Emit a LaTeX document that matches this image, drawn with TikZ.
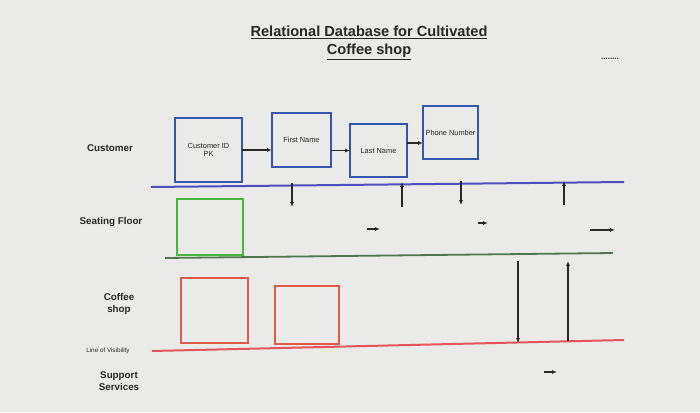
\documentclass[tikz,border=0pt]{standalone}
\usepackage{fontspec}
\setmainfont{Liberation Sans}
\usetikzlibrary{positioning,arrows.meta}

\definecolor{boxblue}{RGB}{52,86,176}
\definecolor{lineblue}{RGB}{78,78,190}
\definecolor{boxgreen}{RGB}{74,180,64}
\definecolor{linegreen}{RGB}{80,118,80}
\definecolor{boxred}{RGB}{224,90,74}
\definecolor{linered}{RGB}{228,84,92}
\definecolor{paper}{RGB}{234,234,232}
\definecolor{ink}{RGB}{40,40,40}

\tikzset{
  lane/.style={font=\fontsize{9.8}{12}\selectfont\bfseries, text=ink, align=center},
  attr/.style={draw=boxblue, line width=2.2pt, inner sep=0pt, outer sep=0pt, align=center,
    font=\fontsize{7.4}{8}\selectfont, text=ink},
  seatbox/.style={draw=boxgreen, line width=2.2pt, inner sep=0pt, outer sep=0pt},
  shopbox/.style={draw=boxred, line width=2pt, inner sep=0pt, outer sep=0pt},
  flow/.style={-{Latex[length=5pt,width=4pt]}, line width=1.3pt, draw=ink}
}

\begin{document}
\begin{tikzpicture}[x=1pt, y=-1pt]

			\fill[paper] (0,0) rectangle (700,412);
			\useasboundingbox (0,0) rectangle (700,412);

			% Title
			\node[font=\fontsize{14.6}{18}\selectfont\bfseries, text=ink, align=center] (title) at (369,43)
			  {\underline{Relational Database for Cultivated}\\\underline{Coffee shop}};
			\node[font=\fontsize{8}{8}\selectfont\bfseries, text=ink] (dots) at (610,59) {........};

			% Define lanes
			\node[lane]                               (cust) at (110,148) {Customer};
			\node[lane]                               (seat) at (111,222) {Seating Floor};
			\node[lane]                               (shop) at (119,304) {Coffee\\shop};
			\node[font=\fontsize{6.3}{7}\selectfont, text=ink] (lov) at (108,351) {Line of Visibility};
			\node[lane]                               (supp) at (119,381) {Support\\Services};

			% Define nodes
			\node[attr, minimum width=67pt, minimum height=64pt] (cid) at (208.5,150) {Customer ID\\PK};
			\node[attr, minimum width=59pt, minimum height=54pt, right=30pt of cid, yshift=10pt]  (fn) {First Name};
			\node[attr, minimum width=57pt, minimum height=53pt, right=19pt of fn, yshift=-10.5pt] (ln) {Last Name};
			\node[attr, minimum width=55pt, minimum height=53pt, right=16pt of ln, yshift=18pt]  (pn) {Phone Number};

			\node[seatbox, minimum width=66pt, minimum height=56pt, below=17pt of cid, xshift=1.5pt] (sf) {};

			\node[shopbox, minimum width=67pt, minimum height=65pt] (cs_1) at (214.5,310.5) {};
			\node[shopbox, minimum width=64pt, minimum height=58pt, right=27pt of cs_1, yshift=-4.5pt] (cs_2) {};

			% Lane lines
			\draw[line width=2pt, lineblue]  (151,187) -- (624,182);
			\draw[line width=1.8pt, linegreen] (165,258) -- (613,253);
			\draw[line width=2pt, linered]   (152,351) -- (624,340);

			% Connect the nodes
			\draw[flow] (cid.east) -- (cid.east -| fn.west);
			\draw[flow] (fn.east |- ln.west) -- (ln.west);
			\draw[flow] ([yshift=7.5pt]ln.east) -- ([yshift=7.5pt]ln.east -| pn.west);

			% Loose arrows
			\foreach \x/\a/\b in {292/183/207, 461/181/205, 402/207/182, 564/205/181, 518/261/343, 568/341/261}
			  \draw[flow] (\x,\a) -- (\x,\b);
			\foreach \a/\b/\y in {367/380/229, 478/488/223, 590/615/230, 544/557/372}
			  \draw[flow] (\a,\y) -- (\b,\y);

\end{tikzpicture}
\end{document}
